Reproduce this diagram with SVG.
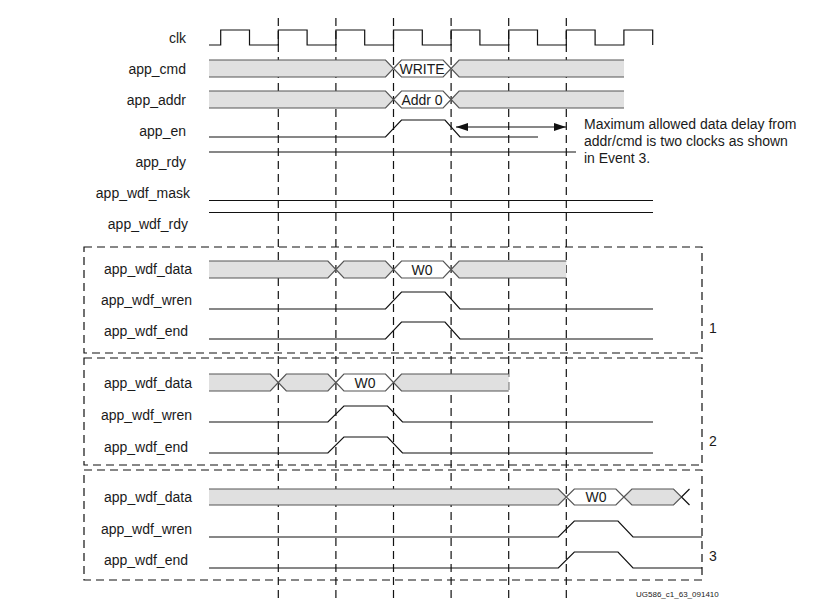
<svg xmlns="http://www.w3.org/2000/svg" width="828" height="604" viewBox="0 0 828 604">
<style>
text{font-family:"Liberation Sans",Arial,sans-serif;font-size:14px;fill:#1a1a1a}
.l{text-anchor:end}
.c{text-anchor:middle}
.s{fill:none;stroke:#111;stroke-width:1.2}
.g{fill:#e0e0e0;stroke:#555;stroke-width:1.2}
.d{fill:none;stroke:#111;stroke-width:1.2;stroke-dasharray:8,5}
</style>
<defs>
<marker id="ah" viewBox="0 0 12 8" refX="12" refY="4" markerWidth="12" markerHeight="8" markerUnits="userSpaceOnUse" orient="auto-start-reverse"><path d="M0,0 L12,4 L0,8 Z" fill="#111"/></marker>
</defs>
<rect width="828" height="604" fill="#fff"/>
<g id="grid">
<path class="d" d="M278.3,18V600 M335.9,18V600 M393.5,18V600 M451.1,18V600 M508.7,18V600 M566.3,18V600"/>
</g>
<g id="clk"><text class="l" x="186" y="43">clk</text>
<path class="s" d="M209,45H220.7V30H249.5V45H278.3V30H307.1V45H335.9V30H364.7V45H393.5V30H422.3V45H451.1V30H479.9V45H508.7V30H537.5V45H566.3V30H595.1V45H623.9V30H652.7V45"/></g>
<g id="app_cmd"><text class="l" x="186" y="74">app_cmd</text>
<path class="g" d="M209,60H385.5L393.5,68.5L385.5,77H209"/>
<path class="g" d="M393.5,68.5L401.5,60H443.1L451.1,68.5L443.1,77H401.5Z" style="fill:#fff"/>
<path class="g" d="M624,60H459.1L451.1,68.5L459.1,77H624"/>
<text class="c" x="422" y="73.5">WRITE</text></g>
<g id="app_addr"><text class="l" x="186" y="105">app_addr</text>
<path class="g" d="M209,91H385.5L393.5,99.5L385.5,108H209"/>
<path class="g" d="M393.5,99.5L401.5,91H443.1L451.1,99.5L443.1,108H401.5Z" style="fill:#fff"/>
<path class="g" d="M624,91H459.1L451.1,99.5L459.1,108H624"/>
<text class="c" x="422" y="104.5">Addr 0</text></g>
<g id="app_en"><text class="l" x="186" y="136">app_en</text>
<path class="s" d="M209,137H385.5L401.5,120H445L460,137H538"/></g>
<g id="app_rdy"><text class="l" x="186" y="167">app_rdy</text>
<path class="s" d="M209,152H576"/></g>
<g id="app_wdf_mask"><text class="l" x="190" y="198">app_wdf_mask</text>
<path class="s" d="M209,200.5H653"/></g>
<g id="app_wdf_rdy"><text class="l" x="188" y="229">app_wdf_rdy</text>
<path class="s" d="M209,212.5H653"/></g>
<g id="note">
<text x="584" y="129">Maximum allowed data delay from</text>
<text x="584" y="146">addr/cmd is two clocks as shown</text>
<text x="584" y="163">in Event 3.</text></g>
<g id="event1">
<rect class="d" x="84" y="247" width="618" height="106"/>
<text class="l" x="192" y="274">app_wdf_data</text>
<text class="l" x="192" y="305">app_wdf_wren</text>
<text class="l" x="188" y="336">app_wdf_end</text>
<path class="g" d="M209,261H327.9L335.9,269.5L327.9,278H209"/>
<path class="g" d="M335.9,269.5L343.9,261H385.5L393.5,269.5L385.5,278H343.9Z"/>
<path class="g" d="M393.5,269.5L401.5,261H443.1L451.1,269.5L443.1,278H401.5Z" style="fill:#fff"/>
<path class="g" d="M566.3,261H459.1L451.1,269.5L459.1,278H566.3"/>
<text class="c" x="422" y="274.5">W0</text>
<path class="s" d="M209,309H385.5L401.5,292H445L460,309H653"/>
<path class="s" d="M209,339H385.5L401.5,322H445L460,339H653"/>
<text x="709" y="333">1</text></g>
<g id="event2">
<rect class="d" x="84" y="358" width="618" height="107"/>
<text class="l" x="192" y="388">app_wdf_data</text>
<text class="l" x="192" y="420">app_wdf_wren</text>
<text class="l" x="188" y="452">app_wdf_end</text>
<path class="g" d="M209,374H270.3L278.3,382.5L270.3,391H209"/>
<path class="g" d="M278.3,382.5L286.3,374H327.9L335.9,382.5L327.9,391H286.3Z"/>
<path class="g" d="M335.9,382.5L343.9,374H385.5L393.5,382.5L385.5,391H343.9Z" style="fill:#fff"/>
<path class="g" d="M508.7,374H401.5L393.5,382.5L401.5,391H508.7"/>
<text class="c" x="365" y="387.5">W0</text>
<path class="s" d="M209,422H327.9L343.9,406H387.5L402.5,422H653"/>
<path class="s" d="M209,453H327.9L343.9,437H387.5L402.5,453H653"/>
<text x="709" y="446">2</text></g>
<g id="event3">
<rect class="d" x="84" y="470" width="618" height="110"/>
<text class="l" x="192" y="502">app_wdf_data</text>
<text class="l" x="192" y="534">app_wdf_wren</text>
<text class="l" x="188" y="565">app_wdf_end</text>
<path class="g" d="M209,489H558.3L566.3,497L558.3,505H209"/>
<path class="g" d="M566.3,497L574.3,489H615.9L623.9,497L615.9,505H574.3Z" style="fill:#fff"/>
<path class="g" d="M623.9,497L631.9,489H673.5L681.5,497L673.5,505H631.9Z"/>
<path class="s" d="M681.5,497L689.5,489M681.5,497L689.5,505"/>
<text class="c" x="596" y="501.5">W0</text>
<path class="s" d="M209,537H558.3L574.3,521H618L633,537H702"/>
<path class="s" d="M209,568H558.3L574.3,552H618L633,568H702"/>
<text x="709" y="561">3</text></g>
<g id="connectors">
<path class="s" d="M456,127H566" marker-start="url(#ah)" marker-end="url(#ah)"/>
</g>
<text x="636" y="597" style="font-size:8px">UG586_c1_63_091410</text>
</svg>
